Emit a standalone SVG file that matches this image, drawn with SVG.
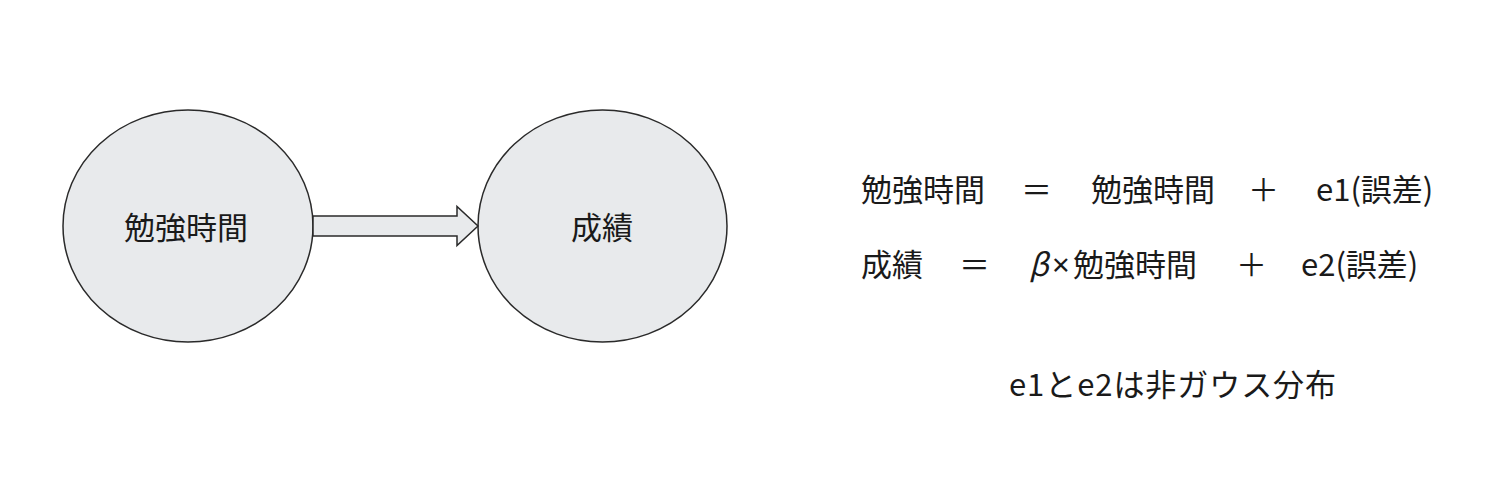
<svg xmlns="http://www.w3.org/2000/svg" width="1504" height="492" viewBox="0 0 1504 492">
<style>
.node{fill:#e8eaec;stroke:#2a2a2a;stroke-width:1.5}
.arrow{fill:#e8eaec;stroke:#2a2a2a;stroke-width:1.5;stroke-linejoin:miter}
text{font-family:"Noto Sans CJK JP","Noto Sans",sans-serif;fill:#1a1a1a;font-size:31px}
.c{text-anchor:middle}
.lat{font-family:"Noto Sans","Noto Sans CJK JP",sans-serif}
</style>
<rect width="1504" height="492" fill="#ffffff"/>
<g id="node-study">
<ellipse class="node" cx="188" cy="226" rx="125" ry="116"/>
<text class="c" x="186" y="239">勉強時間</text>
</g>
<g id="node-grade">
<ellipse class="node" cx="602.5" cy="226" rx="124.5" ry="116"/>
<text class="c" x="602" y="239">成績</text>
</g>
<g id="connectors">
<polygon class="arrow" points="313,216 457,216 457,206.5 478,226 457,245.5 457,236 313,236"/>
</g>
<g id="equations">
<text x="861" y="201">勉強時間</text>
<text x="1021" y="201">＝</text>
<text x="1091" y="201">勉強時間</text>
<text x="1248" y="201">＋</text>
<text x="1316" y="201">e1(誤差)</text>
<text x="861" y="276">成績</text>
<text x="959" y="276">＝</text>
<text x="1029" y="276" font-style="italic">β</text>
<text class="lat" x="1052" y="276" font-size="26">×</text>
<text x="1073" y="276">勉強時間</text>
<text x="1236" y="276">＋</text>
<text x="1301" y="276">e2(誤差)</text>
<text x="1009" y="396" font-size="27" textLength="327" lengthAdjust="spacing">e1とe2は非ガウス分布</text>
</g>
</svg>
